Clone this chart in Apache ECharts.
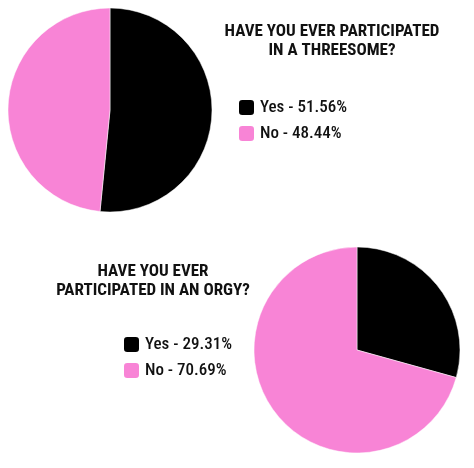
<!DOCTYPE html>
<html>
<head>
<meta charset="utf-8">
<script src="https://cdn.jsdelivr.net/npm/echarts@6/dist/echarts.min.js"></script>
<style>html,body{margin:0;padding:0;background:#fff}#main{width:474px;height:468px}</style>
</head>
<body>
<div id="main"></div>
<script>
var answers = ['Yes', 'No'];
var threesomeValues = [51.56, 48.44];
var orgyValues = [29.31, 70.69];
var colors = ['#000000', '#f884d6'];

var chart = echarts.init(document.getElementById('main'));
var font = 'Roboto Condensed, Roboto, sans-serif';

function pieData(vals, prefix) {
  return answers.map(function (a, i) {
    return { name: prefix + a + ' - ' + vals[i].toFixed(2) + '%', value: vals[i] };
  });
}
function legendFor(vals, prefix, left, top) {
  return {
    data: pieData(vals, prefix).map(function (d) { return d.name; }),
    orient: 'vertical', left: left, top: top, itemGap: 7,
    icon: 'roundRect', itemWidth: 17, itemHeight: 17, selectedMode: false,
    formatter: function (n) { return n.replace(prefix, ''); },
    textStyle: { fontFamily: font, fontSize: 17, color: '#111', fontWeight: 500 }
  };
}

chart.setOption({
  color: colors,
  title: [
    { text: 'HAVE YOU EVER PARTICIPATED\nIN A THREESOME?', left: 327, top: 17, textAlign: 'center',
      textStyle: { fontFamily: font, fontSize: 17, fontWeight: 'bold', color: '#111', lineHeight: 19 } },
    { text: 'HAVE YOU EVER\nPARTICIPATED IN AN ORGY?', left: 148, top: 257, textAlign: 'center',
      textStyle: { fontFamily: font, fontSize: 17, fontWeight: 'bold', color: '#111', lineHeight: 19 } }
  ],
  legend: [legendFor(threesomeValues, '', 232, 93), legendFor(orgyValues, ' ', 117, 330)],
  series: [
    { type: 'pie', center: [110, 110], radius: 102, startAngle: 90, clockwise: true,
      label: { show: false }, silent: true, animation: false,
      itemStyle: { borderColor: '#fff', borderWidth: 0.5 },
      data: pieData(threesomeValues, '') },
    { type: 'pie', center: [357, 350], radius: 103, startAngle: 90, clockwise: true,
      label: { show: false }, silent: true, animation: false,
      itemStyle: { borderColor: '#fff', borderWidth: 0.5 },
      data: pieData(orgyValues, ' ') }
  ]
});
</script>
</body>
</html>
